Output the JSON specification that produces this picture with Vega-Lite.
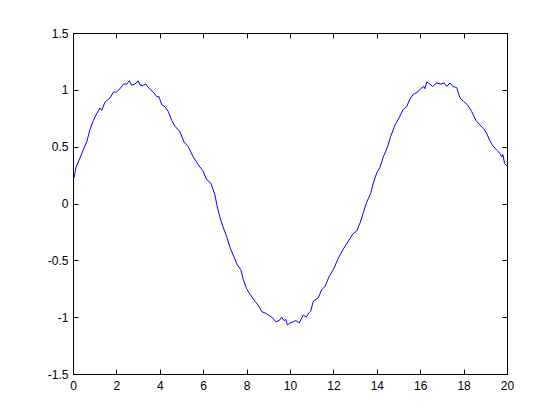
{
  "$schema": "https://vega.github.io/schema/vega-lite/v6.json",
  "width": 434,
  "height": 341,
  "autosize": {"type": "none"},
  "padding": {"left": 73, "top": 33, "right": 53, "bottom": 46},
  "background": "white",
  "config": {
    "view": {"stroke": "black", "strokeWidth": 1},
    "axis": {
      "grid": false,
      "domainColor": "black",
      "tickColor": "black",
      "tickSize": -5,
      "labelFont": "Liberation Sans",
      "labelFontSize": 12,
      "labelColor": "black",
      "labelFlush": false,
      "labelOverlap": false,
      "title": null,
      "labelExpr": "'' + datum.value"
    }
  },
  "data": {"values": [
    {"x": 0, "y": 0.21}, {"x": 0.05, "y": 0.23}, {"x": 0.14, "y": 0.32}, {"x": 0.32, "y": 0.40},
    {"x": 0.47, "y": 0.47}, {"x": 0.63, "y": 0.54}, {"x": 0.78, "y": 0.65}, {"x": 0.94, "y": 0.73},
    {"x": 1.09, "y": 0.79}, {"x": 1.24, "y": 0.84}, {"x": 1.32, "y": 0.82}, {"x": 1.47, "y": 0.89},
    {"x": 1.71, "y": 0.93}, {"x": 1.86, "y": 0.98}, {"x": 2.01, "y": 0.98}, {"x": 2.17, "y": 1.01},
    {"x": 2.32, "y": 1.05}, {"x": 2.47, "y": 1.05}, {"x": 2.6, "y": 1.08}, {"x": 2.7, "y": 1.04},
    {"x": 2.85, "y": 1.05}, {"x": 3.0, "y": 1.08}, {"x": 3.1, "y": 1.04}, {"x": 3.23, "y": 1.04},
    {"x": 3.35, "y": 1.05}, {"x": 3.52, "y": 1.01}, {"x": 3.70, "y": 0.98}, {"x": 3.86, "y": 0.94},
    {"x": 3.96, "y": 0.94}, {"x": 4.09, "y": 0.87}, {"x": 4.24, "y": 0.85}, {"x": 4.39, "y": 0.81},
    {"x": 4.55, "y": 0.73}, {"x": 4.70, "y": 0.68}, {"x": 4.93, "y": 0.63}, {"x": 5.12, "y": 0.54},
    {"x": 5.31, "y": 0.50}, {"x": 5.54, "y": 0.41}, {"x": 5.77, "y": 0.34}, {"x": 5.98, "y": 0.29},
    {"x": 6.16, "y": 0.21}, {"x": 6.35, "y": 0.18}, {"x": 6.54, "y": 0.075}, {"x": 6.65, "y": -0.03},
    {"x": 6.77, "y": -0.12}, {"x": 6.90, "y": -0.20}, {"x": 7.08, "y": -0.29}, {"x": 7.24, "y": -0.39},
    {"x": 7.42, "y": -0.47}, {"x": 7.57, "y": -0.54}, {"x": 7.73, "y": -0.58}, {"x": 7.85, "y": -0.67},
    {"x": 8.0, "y": -0.75}, {"x": 8.16, "y": -0.80}, {"x": 8.39, "y": -0.86}, {"x": 8.59, "y": -0.91},
    {"x": 8.69, "y": -0.95}, {"x": 8.92, "y": -0.97}, {"x": 9.16, "y": -1.0}, {"x": 9.35, "y": -1.04},
    {"x": 9.5, "y": -1.03}, {"x": 9.62, "y": -1.0}, {"x": 9.72, "y": -1.03}, {"x": 9.81, "y": -1.02},
    {"x": 9.88, "y": -1.07}, {"x": 10.0, "y": -1.05}, {"x": 10.15, "y": -1.04}, {"x": 10.27, "y": -1.03},
    {"x": 10.43, "y": -1.05}, {"x": 10.61, "y": -0.98}, {"x": 10.75, "y": -1.0}, {"x": 10.88, "y": -0.96},
    {"x": 10.95, "y": -0.95}, {"x": 11.07, "y": -0.86}, {"x": 11.30, "y": -0.83}, {"x": 11.46, "y": -0.76},
    {"x": 11.61, "y": -0.73}, {"x": 11.81, "y": -0.64}, {"x": 12.0, "y": -0.58}, {"x": 12.23, "y": -0.48},
    {"x": 12.46, "y": -0.40}, {"x": 12.69, "y": -0.33}, {"x": 12.89, "y": -0.27}, {"x": 13.08, "y": -0.24},
    {"x": 13.23, "y": -0.17}, {"x": 13.38, "y": -0.08}, {"x": 13.53, "y": 0.01}, {"x": 13.72, "y": 0.09},
    {"x": 13.84, "y": 0.18}, {"x": 14.0, "y": 0.27}, {"x": 14.15, "y": 0.32}, {"x": 14.30, "y": 0.41},
    {"x": 14.48, "y": 0.49}, {"x": 14.64, "y": 0.59}, {"x": 14.84, "y": 0.69}, {"x": 15.04, "y": 0.76},
    {"x": 15.22, "y": 0.83}, {"x": 15.37, "y": 0.85}, {"x": 15.53, "y": 0.92}, {"x": 15.68, "y": 0.96},
    {"x": 15.87, "y": 0.98}, {"x": 16.02, "y": 1.01}, {"x": 16.17, "y": 1.03}, {"x": 16.22, "y": 1.01},
    {"x": 16.3, "y": 1.07}, {"x": 16.45, "y": 1.05}, {"x": 16.57, "y": 1.03}, {"x": 16.76, "y": 1.06},
    {"x": 16.94, "y": 1.05}, {"x": 17.1, "y": 1.06}, {"x": 17.22, "y": 1.03}, {"x": 17.37, "y": 1.06},
    {"x": 17.5, "y": 1.03}, {"x": 17.68, "y": 1.02}, {"x": 17.83, "y": 0.93}, {"x": 17.99, "y": 0.90},
    {"x": 18.17, "y": 0.87}, {"x": 18.37, "y": 0.81}, {"x": 18.57, "y": 0.73}, {"x": 18.76, "y": 0.69},
    {"x": 18.91, "y": 0.66}, {"x": 19.06, "y": 0.62}, {"x": 19.19, "y": 0.56}, {"x": 19.34, "y": 0.51},
    {"x": 19.52, "y": 0.47}, {"x": 19.68, "y": 0.44}, {"x": 19.76, "y": 0.41}, {"x": 19.81, "y": 0.43},
    {"x": 19.89, "y": 0.35}, {"x": 20.0, "y": 0.33}
  ]},
  "layer": [
    {
      "mark": {"type": "line", "color": "#0000ff", "strokeWidth": 1, "clip": true},
      "encoding": {
        "x": {"field": "x", "type": "quantitative", "scale": {"domain": [0, 20], "nice": false, "zero": false},
              "axis": {"values": [0, 2, 4, 6, 8, 10, 12, 14, 16, 18, 20], "labelPadding": 11, "orient": "bottom"}},
        "y": {"field": "y", "type": "quantitative", "scale": {"domain": [-1.5, 1.5], "nice": false, "zero": false},
              "axis": {"values": [-1.5, -1, -0.5, 0, 0.5, 1, 1.5], "labelPadding": 10, "orient": "left"}}
      }
    },
    {
      "mark": {"type": "line", "opacity": 0},
      "encoding": {
        "x": {"field": "x", "type": "quantitative", "scale": {"domain": [0, 20], "nice": false, "zero": false},
              "axis": {"values": [0, 2, 4, 6, 8, 10, 12, 14, 16, 18, 20], "labels": false, "orient": "top"}},
        "y": {"field": "y", "type": "quantitative", "scale": {"domain": [-1.5, 1.5], "nice": false, "zero": false},
              "axis": {"values": [-1.5, -1, -0.5, 0, 0.5, 1, 1.5], "labels": false, "orient": "right"}}
      }
    }
  ],
  "resolve": {"axis": {"x": "independent", "y": "independent"}}
}
